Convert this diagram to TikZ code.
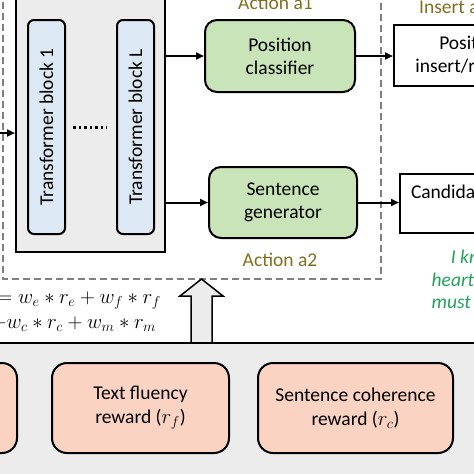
\documentclass[tikz,border=0pt]{standalone}
\usepackage{fontspec}
\setmainfont{Carlito}
\usetikzlibrary{arrows.meta}
\definecolor{blockblue}{HTML}{DDE8F5}
\definecolor{clsgreen}{HTML}{C8E4B8}
\definecolor{rwdsalmon}{HTML}{FAD3C3}
\definecolor{panelgray}{HTML}{ECECEC}
\definecolor{actolive}{HTML}{7F6F1F}
\definecolor{samplegreen}{HTML}{1FA35A}

\begin{document}
\begin{tikzpicture}[x=1pt,y=-1pt,
	every node/.style={font=\fontsize{19.5}{23}\selectfont, inner sep=0pt},
	tblock/.style={draw=black, line width=2pt, fill=blockblue, rounded corners=6pt,
		rotate=90, minimum width=214pt, minimum height=37pt},
	module/.style={draw=black, line width=2pt, fill=clsgreen, rounded corners=12pt, align=center},
	outbox/.style={draw=black, line width=2pt, fill=white, align=center},
	reward/.style={draw=black, line width=2pt, fill=rwdsalmon, rounded corners=15pt,
		minimum height=90pt, align=center, font=\fontsize{19.5}{24}\selectfont},
	actlabel/.style={text=actolive},
	arr/.style={-{Triangle[length=8pt,width=7pt]}, line width=2pt},
	dashbox/.style={draw=gray, line width=2pt, dash pattern=on 7pt off 4pt}]
	\useasboundingbox (0,0) rectangle (474,474);
	\clip (0,0) rectangle (474,474);

	% agent
	\draw[dashbox] (3,-20) |- (381,279) -- (381,-20);
	\node[draw=black, line width=2pt, fill=panelgray, minimum width=149pt, minimum height=272pt] (cont) at (90.5,116) {};
	\node[tblock] (blk1) at (46.5,127) {Transformer block 1};
	\node[tblock] (blkL) at (135.5,127) {Transformer block L};
	\draw[line width=3pt, dash pattern=on 2.5pt off 3pt] ([xshift=7pt]blk1.south) -- ([xshift=-9pt]blkL.north);
	\coordinate (in) at (-10,133);
	\draw[arr] (in) -- (in -| cont.west);

	\node[module, minimum width=150pt, minimum height=72pt] (pc) at (280,56) {Position\\classifier};
	\node[module, minimum width=148pt, minimum height=71pt] (sg) at (283,202.5) {Sentence\\generator};
	\node[actlabel, anchor=base] (act1) at (275.5,9) {Action a1};
	\node[actlabel, anchor=base] (act2) at (280,266) {Action a2};
	\draw[arr] (cont.east |- pc.west) -- (pc.west);
	\draw[arr] (cont.east |- sg.west) -- (sg.west);

	% outputs
	\node[actlabel, anchor=base west] (ins) at (419,13) {Insert action};
	\node[outbox, anchor=west, minimum width=154pt, minimum height=61pt] (pos) at (393,55.5) {Position\\insert/replace};
	\node[outbox, anchor=north west, inner xsep=11pt, text height=24pt, text depth=35pt] (cand) at (399,173) {Candidate sentences};
	\draw[arr] (pc.east) -- (pc.east -| pos.west);
	\draw[arr] (sg.east) -- (sg.east -| cand.west);
	\node[text=samplegreen, font=\fontsize{19.5}{22.5}\selectfont\itshape, align=center] (smp) at (492,281) {I know the\\heartbreak you\\must be feeling};

	% reward
	\node[anchor=east, font=\fontsize{20}{25}\selectfont] (eq) at (161,310.5)
		{\begin{tabular}{@{}r@{}l@{}}$r$ & ${}= w_e * r_e + w_f * r_f$\\ & $+w_c * r_c + w_m * r_m$\end{tabular}};
	\draw[line width=1.5pt, fill=panelgray] (191,343) -- (191,296) -- (180,296) -- (201.5,279)
		-- (223,296) -- (212,296) -- (212,343);
	\fill[panelgray] (-10,343) rectangle (484,484);
	\draw[line width=2pt] (-10,343) -- (484,343);
	\node[reward, anchor=east, minimum width=180pt] (rwe) at (18,408) {};
	\node[reward, minimum width=177pt] (rwf) at (140.5,408) {Text fluency\\reward ($r_f$)};
	\node[reward, minimum width=195pt] (rwc) at (355.5,408) {Sentence coherence\\reward ($r_c$)};
\end{tikzpicture}
\end{document}
